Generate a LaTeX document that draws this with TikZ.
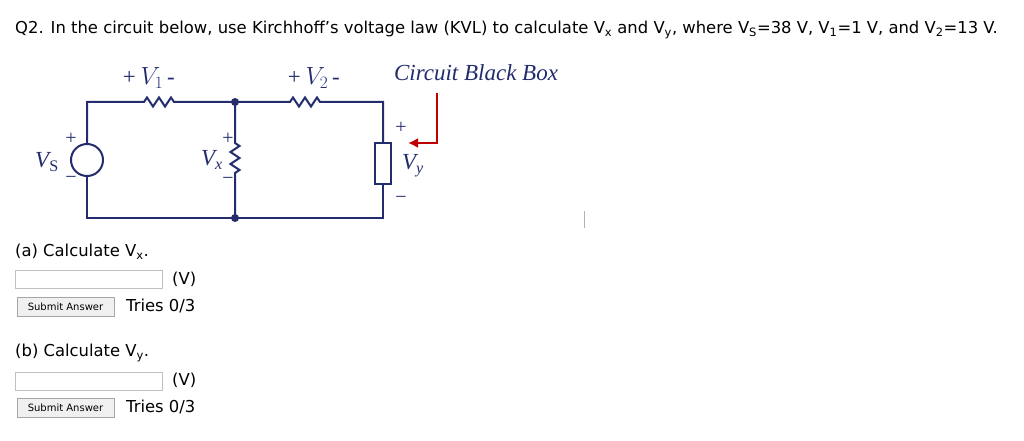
\documentclass[tikz,border=0pt]{standalone}
\usetikzlibrary{arrows.meta}
\usepackage{fontspec}
\setmainfont{DejaVu Sans}
\newfontfamily\ser{Liberation Serif}
\begin{document}
\begin{tikzpicture}[x=1pt,y=-1pt,
 w/.style={draw=cblue,line width=2pt},
 lab/.style={text=cblue,font=\ser\itshape\fontsize{23}{23}\selectfont,inner sep=0},
 sgn/.style={text=cblue,font=\ser\fontsize{20}{20}\selectfont,inner sep=0},
 txt/.style={anchor=west,inner sep=0,font=\fontsize{16.4}{17}\selectfont},
 box/.style={draw=gray!50,fill=white},
 btn/.style={draw=gray!70,fill=gray!12,font=\fontsize{10}{11}\selectfont,inner sep=0}]
\definecolor{cblue}{RGB}{35,45,110}
\useasboundingbox (0,0) rectangle (1024,441);
\fill[white] (0,0) rectangle (1024,441);
\node[txt] (q) at (15,30) {Q2. In the circuit below, use Kirchhoff's voltage law (KVL) to calculate V\textsubscript{x} and V\textsubscript{y}, where V\textsubscript{S}=38 V, V\textsubscript{1}=1 V, and V\textsubscript{2}=13 V.};
% circuit
\coordinate (tl) at (87,102); \coordinate (tm) at (235,102); \coordinate (tr) at (383,102);
\coordinate (bl) at (87,218); \coordinate (bm) at (235,218); \coordinate (br) at (383,218);
\node[circle,draw=cblue,line width=2pt,minimum size=32pt,inner sep=0] (vs) at (87,160) {};
\draw[w] (vs.north) -- (tl) -- (144,102) -- ++(3,-4.5) -- ++(6,9) -- ++(6,-9) -- ++(6,9) -- ++(6,-9) -- ++(3,4.5) -- (tm)
 -- (290,102) -- ++(3,-4.5) -- ++(6,9) -- ++(6,-9) -- ++(6,9) -- ++(6,-9) -- ++(3,4.5) -- (tr) -- (383,143);
\draw[w] (vs.south) -- (bl) -- (br) -- (383,183);
\node[draw=cblue,line width=2pt,minimum width=16pt,minimum height=41pt,inner sep=0] (bb) at (383,163) {};
\draw[w] (tm) -- (235,143) -- ++(4.5,3) -- ++(-9,6) -- ++(9,6) -- ++(-9,6) -- ++(9,6) -- ++(-4.5,3) -- (bm);
\fill[cblue] (tm) circle (4) (bm) circle (4);
\coordinate (ra) at (437,93); \coordinate (rb) at (437,143); \coordinate (rc) at (408,143);
\draw[red!75!black,line width=2.2pt,-{Latex[length=10pt,width=10pt]}] (ra) -- (rb) -- (rc);
\node[lab] (v1) at (148,78) {+\,$V_1$\,-};
\node[lab] (v2) at (313,78) {+\,$V_2$\,-};
\node[lab] (cbb) at (476,73) {Circuit Black Box};
\node[lab] (lvs) at (47,162) {V\textsubscript{\upshape S}};
\node[lab] (lvx) at (212,160) {V\textsubscript{x}};
\node[lab] (lvy) at (413,166) {V\textsubscript{y}};
\node[sgn] (p1) at (71,139) {+}; \node[sgn] (m1) at (71,180) {\textminus};
\node[sgn] (p2) at (228,139) {+}; \node[sgn] (m2) at (228,181) {\textminus};
\node[sgn] (p3) at (401,128) {+}; \node[sgn] (m3) at (401,200) {\textminus};
\draw[gray!60] (584,211) -- (584,228);
% questions
\node[txt] (qa) at (15,252) {(a) Calculate V\textsubscript{x}.};
\node[box,minimum width=147pt,minimum height=18pt,inner sep=0] (ba) at (88.5,279) {};
\node[txt] (va) at (172,279) {(V)};
\node[btn,minimum width=97pt,minimum height=19pt] (sa) at (65.5,306.5) {Submit Answer};
\node[txt] (ta) at (126,306) {Tries 0/3};
\node[txt] (qb) at (15,353) {(b) Calculate V\textsubscript{y}.};
\node[box,minimum width=147pt,minimum height=18pt,inner sep=0] (bbx) at (88.5,381) {};
\node[txt] (vb) at (172,380) {(V)};
\node[btn,minimum width=97pt,minimum height=19pt] (sb) at (65.5,407.5) {Submit Answer};
\node[txt] (tb) at (126,407) {Tries 0/3};
\end{tikzpicture}
\end{document}
